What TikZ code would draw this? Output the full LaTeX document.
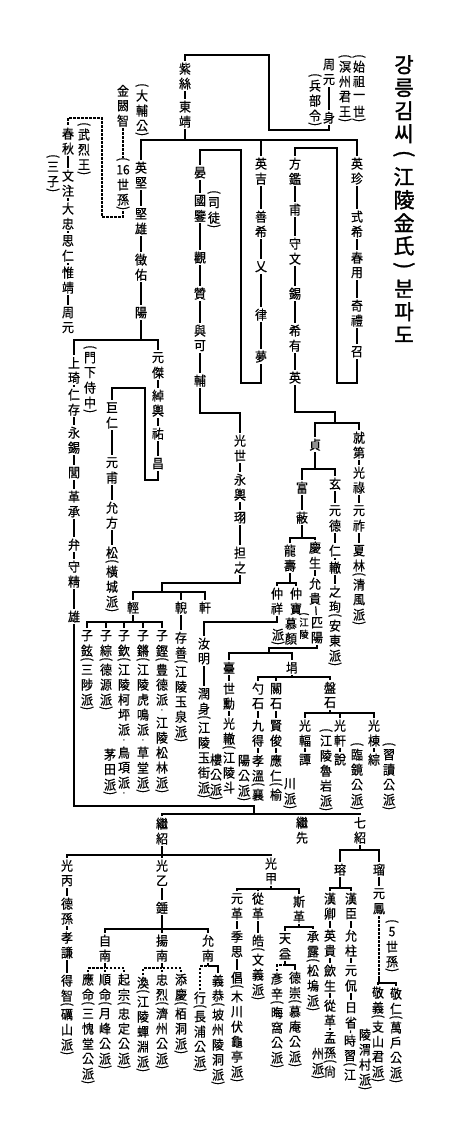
\documentclass[tikz,border=0pt]{standalone}
\usepackage{fontspec}
\usepackage{graphicx}
\newfontfamily\cjk[FakeBold=0.5,FakeStretch=0.92]{Noto Sans CJK KR}
\newfontfamily\cjkt[FakeBold=1.5]{Noto Sans CJK KR}

% vertical text, one box per character
\newlength\vtp \setlength\vtp{15pt}
\newlength\vtq \setlength\vtq{4pt}
\newlength\vtw \setlength\vtw{16pt}
\let\vtend\relax
\def\vtE{\vtend}
\def\vtO{(}\def\vtC{)}\def\vtD{·}
\def\vtbox#1{\vbox to\vtp{\vss\hbox to\vtw{\hss#1\hss}\vss}}
\def\vtpar#1{\vbox to\vtq{\vss\hbox to\vtw{\hss\rotatebox[origin=c]{-90}{#1}\hss}\vss}}
\def\vtdot{\vbox to 8pt{\vss\hbox to\vtw{\hss{\rmfamily\bfseries\fontsize{9}{9}\selectfont ·}\hss}\vss}}
\def\vtc#1{\def\vttmp{#1}%
  \ifx\vttmp\vtO\vtpar{(}\else
  \ifx\vttmp\vtC\vtpar{)}\else
  \ifx\vttmp\vtD\vtdot\else\vtbox{#1}\fi\fi\fi}
\def\vtl#1{\def\vttmp{#1}\ifx\vttmp\vtE\else\vtc{#1}\expandafter\vtl\fi}
\newcommand\vt[1]{\vbox{\offinterlineskip\vtl#1\vtend}}

\begin{document}
\begin{tikzpicture}[x=1pt,y=-1pt,
    nm/.style={inner sep=0pt,anchor=north,font=\cjk\fontsize{13}{15}\selectfont},
    sm/.style={nm,font=\cjk\fontsize{10}{12}\selectfont\setlength\vtp{12pt}\setlength\vtq{3pt}},
    ttl/.style={nm,font=\cjkt\fontsize{21}{23}\selectfont\setlength\vtp{23pt}\setlength\vtq{20pt}\setlength\vtw{24pt}},
    ln/.style={line width=1.2pt},
    dl/.style={line width=1.2pt,dash pattern=on 2.5pt off 1.5pt}
  ]
  \fill[white] (0,0) rectangle (474,1121);
  \useasboundingbox (0,0) rectangle (474,1121);

  \node[ttl] (title) at (404,53) {\vt{강릉김씨(江陵金氏)분파도}};

  % 始祖
  \node[nm] (r1) at (359,55) {\vt{(始祖一世)}};
  \node[nm] (r2) at (345,55) {\vt{(溟州君王)}};
  \node[nm] (zy) at (329,57) {\vt{周元}};
  \node[nm] (shen) at (329,110) {\vt{身}};
  \node[nm] (r3) at (315,74) {\vt{(兵部令)}};
  \node[nm] (zs) at (185,61) {\vt{紫絲}};
  \node[nm] (dj) at (185,99) {\vt{東靖}};

  % 英堅
  \node[nm] (yj) at (141,160) {\vt{英堅}};
  \node[nm] (jx) at (141,206) {\vt{堅雄}};
  \node[nm] (zy2) at (141,252) {\vt{徵佑}};
  \node[nm] (yang) at (141,305) {\vt{陽}};
  \node[nm] (a1) at (142,84) {\vt{(大輔公)}};
  \node[nm] (jyz) at (123,83) {\vt{金閼智}};
  \node[nm] (a2) at (123,158) {\vt{({16}世孫)}};
  \node[nm] (cq) at (68,126) {\vt{春秋}};
  \node[nm] (a3) at (84,123) {\vt{(武烈王)}};
  \node[nm] (a4) at (53,155) {\vt{(三子)}};
  \node[nm] (wz) at (68,168) {\vt{文注}};
  \node[nm] (dzh) at (68,201) {\vt{大忠}};
  \node[nm] (sr) at (68,233) {\vt{思仁}};
  \node[nm] (wj) at (68,265) {\vt{惟靖}};
  \node[nm] (zy3) at (68,305) {\vt{周元}};

  \node[nm] (sq) at (74,355) {\vt{上琦}};
  \node[nm] (a5) at (90,346) {\vt{(門下侍中)}};
  \node[nm] (rc) at (74,387) {\vt{仁存}};
  \node[nm] (yx) at (74,425) {\vt{永錫}};
  \node[nm] (lv) at (74,465) {\vt{閭}};
  \node[nm] (gc) at (74,489) {\vt{革承}};
  \node[nm] (bian) at (74,537) {\vt{弁}};
  \node[nm] (sj) at (74,559) {\vt{守精}};
  \node[nm] (xiong) at (74,609) {\vt{雄}};

  \node[nm] (yjie) at (158,350) {\vt{元傑}};
  \node[nm] (cy) at (158,388) {\vt{綽輿}};
  \node[nm] (you) at (158,426) {\vt{祐}};
  \node[nm] (chang) at (158,456) {\vt{昌}};
  \node[nm] (jr) at (112,400) {\vt{巨仁}};
  \node[nm] (yf) at (112,455) {\vt{元甫}};
  \node[nm] (yfang) at (112,500) {\vt{允方}};
  \node[nm] (song) at (112,545) {\vt{松(橫城派)}};

  % 晏
  \node[nm] (yan) at (200,165) {\vt{晏}};
  \node[nm] (gj) at (200,193) {\vt{國鑒}};
  \node[nm] (a7) at (214,191) {\vt{(司徒)}};
  \node[nm] (guan) at (200,250) {\vt{觀}};
  \node[nm] (zan) at (200,286) {\vt{贊}};
  \node[nm] (yk) at (200,323) {\vt{與可}};
  \node[nm] (fu) at (200,373) {\vt{輔}};
  \node[nm] (gs) at (240,433) {\vt{光世}};
  \node[nm] (yxing) at (240,472) {\vt{永輿}};
  \node[nm] (xu) at (240,510) {\vt{珝}};
  \node[nm] (dz) at (240,545) {\vt{担之}};
  \node[nm] (qing) at (133,600) {\vt{輕}};
  \node[nm] (ni) at (181,600) {\vt{輗}};
  \node[nm] (xuan) at (205,600) {\vt{軒}};
  \node[nm] (zx) at (87,628) {\vt{子鉉(三陟派)}};
  \node[nm] (zz) at (106,628) {\vt{子綜(德源派)}};
  \node[nm] (zq) at (124,628) {\vt{子欽(江陵柯坪派·鳥項派·}};
  \node[nm] (zq2) at (110,747) {\vt{茅田派)}};
  \node[nm] (zqi) at (143,628) {\vt{子鏘(江陵虎鳴派·草堂派)}};
  \node[nm] (zk) at (162,628) {\vt{子鏗(豊德派·江陵松林派)}};
  \node[nm] (cs) at (181,630) {\vt{存善(江陵玉泉派)}};
  \node[nm] (rm) at (204,636) {\vt{汝明}};
  \node[nm] (rs) at (204,686) {\vt{潤身(江陵玉街派)}};

  % 英珍, 方鑑, 英吉
  \node[nm] (yzh) at (357,156) {\vt{英珍}};
  \node[nm] (sx) at (357,209) {\vt{式希}};
  \node[nm] (cy2) at (357,250) {\vt{春用}};
  \node[nm] (ql) at (357,298) {\vt{奇禮}};
  \node[nm] (zhao) at (357,344) {\vt{召}};
  \node[nm] (fjian) at (295,156) {\vt{方鑑}};
  \node[nm] (pu) at (295,202) {\vt{甫}};
  \node[nm] (sw) at (295,236) {\vt{守文}};
  \node[nm] (xi) at (295,286) {\vt{錫}};
  \node[nm] (xy) at (295,323) {\vt{希有}};
  \node[nm] (ying) at (295,370) {\vt{英}};
  \node[nm] (yji) at (261,156) {\vt{英吉}};
  \node[nm] (sxi) at (261,209) {\vt{善希}};
  \node[nm] (yi) at (261,259) {\vt{乂}};
  \node[nm] (lu) at (261,307) {\vt{律}};
  \node[nm] (meng) at (261,349) {\vt{夢}};

  % 貞, 就第
  \node[nm] (zhen) at (315,437) {\vt{貞}};
  \node[nm] (jd) at (359,430) {\vt{就第}};
  \node[nm] (gl) at (359,465) {\vt{光祿}};
  \node[nm] (yz) at (359,503) {\vt{元祚}};
  \node[nm] (xl) at (359,543) {\vt{夏林(清風派)}};
  \node[nm] (fu2) at (302,480) {\vt{富}};
  \node[nm] (bi) at (302,510) {\vt{蔽}};
  \node[nm] (xuan2) at (335,476) {\vt{玄}};
  \node[nm] (yd) at (335,503) {\vt{元德}};
  \node[nm] (ren) at (335,543) {\vt{仁}};
  \node[nm] (zhe) at (335,560) {\vt{轍}};
  \node[nm] (zx2) at (335,584) {\vt{之珣(安東派)}};
  \node[nm] (ls) at (290,543) {\vt{龍壽}};
  \node[nm] (qs) at (315,540) {\vt{慶生}};
  \node[nm] (yg) at (315,576) {\vt{允貴}};
  \node[nm] (py) at (317,615) {\vt{匹陽}};
  \node[nm] (zxg) at (277,586) {\vt{仲祥}};
  \node[nm] (zb) at (296,586) {\vt{仲寶}};
  \node[nm] (a8b) at (291,616) {\vt{慕顏}};
  \node[sm] (a8) at (304,613) {\vt{(江陵}};
  \node[nm] (a9) at (278,627) {\vt{派)}};

  % 臺, 埍
  \node[nm] (tai) at (229,660) {\vt{臺}};
  \node[nm] (keng) at (292,660) {\vt{埍}};
  \node[nm] (sx2) at (229,681) {\vt{世勳}};
  \node[nm] (gz) at (229,716) {\vt{光轍(江陵斗}};
  \node[nm] (a10) at (216,752) {\vt{樓公派)}};
  \node[nm] (sh2) at (258,681) {\vt{勺石}};
  \node[nm] (jd2) at (258,718) {\vt{九得}};
  \node[nm] (xw) at (258,753) {\vt{孝溫(襄}};
  \node[nm] (a11) at (244,753) {\vt{陽公派)}};
  \node[nm] (gs2) at (276,681) {\vt{關石}};
  \node[nm] (xj) at (276,718) {\vt{賢俊}};
  \node[nm] (yr) at (276,753) {\vt{應仁(榆}};
  \node[nm] (a12) at (290,776) {\vt{川派)}};
  \node[nm] (ps) at (330,680) {\vt{盤石}};
  \node[nm] (gx) at (305,718) {\vt{光輻}};
  \node[nm] (tan) at (305,752) {\vt{譚}};
  \node[nm] (gxu) at (340,718) {\vt{光軒}};
  \node[nm] (shuo) at (340,752) {\vt{說}};
  \node[nm] (gd) at (374,718) {\vt{光棟}};
  \node[nm] (zong) at (374,752) {\vt{綜}};
  \node[nm] (a13) at (326,729) {\vt{(江陵魯岩派)}};
  \node[nm] (a14) at (357,743) {\vt{(臨鏡公派)}};
  \node[nm] (a15) at (389,743) {\vt{(習讀公派)}};

  % 繼紹, 繼先, 七紹
  \node[nm] (jishao) at (162,816) {\vt{繼紹}};
  \node[nm] (jixian) at (302,815) {\vt{繼先}};
  \node[nm] (qishao) at (360,815) {\vt{七紹}};
  \node[nm] (gb) at (67,858) {\vt{光丙}};
  \node[nm] (ds) at (67,896) {\vt{德孫}};
  \node[nm] (xq) at (67,930) {\vt{孝謙}};
  \node[nm] (dzhi) at (67,973) {\vt{得智(礪山派)}};
  \node[nm] (gy) at (162,858) {\vt{光乙}};
  \node[nm] (chui) at (162,900) {\vt{錘}};
  \node[nm] (zn) at (105,933) {\vt{自南}};
  \node[nm] (yn) at (162,933) {\vt{揚南}};
  \node[nm] (yun) at (208,933) {\vt{允南}};
  \node[nm] (ym) at (88,972) {\vt{應命(三愧堂公派)}};
  \node[nm] (sm) at (105,972) {\vt{順命(月峰公派)}};
  \node[nm] (qz) at (124,972) {\vt{起宗(忠定公派)}};
  \node[nm] (huan) at (143,975) {\vt{渙(江陵蟬淵派)}};
  \node[nm] (zl) at (162,972) {\vt{忠烈(濟州公派)}};
  \node[nm] (tq) at (181,972) {\vt{添慶(栢洞派)}};
  \node[nm] (xing) at (200,990) {\vt{行(長浦公派)}};
  \node[nm] (yg2) at (218,973) {\vt{義恭(坡州陵洞派)}};
  \node[nm] (gjia) at (271,856) {\vt{光甲}};
  \node[nm] (yg3) at (237,891) {\vt{元革}};
  \node[nm] (js) at (237,929) {\vt{季思}};
  \node[nm] (chang2) at (237,970) {\vt{倡(木川伏龜亭派)}};
  \node[nm] (cg) at (258,891) {\vt{從革}};
  \node[nm] (hao) at (258,933) {\vt{皓(文義派)}};
  \node[nm] (sg) at (299,894) {\vt{斯革}};
  \node[nm] (ty) at (285,931) {\vt{天益}};
  \node[nm] (cl) at (313,929) {\vt{承露(松塢派)}};
  \node[nm] (yx2) at (277,971) {\vt{彥辛(晦窩公派)}};
  \node[nm] (dc) at (295,970) {\vt{德崇(慕庵公派)}};
  \node[nm] (rong) at (340,862) {\vt{瑢}};
  \node[nm] (liu) at (379,862) {\vt{瑠}};
  \node[nm] (hq) at (330,891) {\vt{漢卿}};
  \node[nm] (yg4) at (330,928) {\vt{英貴}};
  \node[nm] (lsh) at (330,963) {\vt{歛生}};
  \node[nm] (cg2) at (330,998) {\vt{從革}};
  \node[nm] (ms) at (330,1030) {\vt{孟孫(尙}};
  \node[nm] (a16) at (318,1046) {\vt{州派)}};
  \node[nm] (hc) at (351,891) {\vt{漢臣}};
  \node[nm] (yz2) at (351,928) {\vt{允柱}};
  \node[nm] (yk2) at (351,963) {\vt{元侃}};
  \node[nm] (rs2) at (351,1000) {\vt{日省}};
  \node[nm] (sx3) at (350,1033) {\vt{時習(江}};
  \node[nm] (a17) at (365,1027) {\vt{陵渭村派)}};
  \node[nm] (yf2) at (379,886) {\vt{元鳳}};
  \node[nm] (a18) at (392,920) {\vt{(5世孫)}};
  \node[nm] (jy) at (378,985) {\vt{敬義(支山君派)}};
  \node[nm] (jr2) at (396,986) {\vt{敬仁(萬戶公派)}};

  % links inside a column
  \foreach \a/\b in {zy/shen,zs/dj,yj/jx,jx/zy2,zy2/yang,
      cq/wz,wz/dzh,dzh/sr,sr/wj,wj/zy3,
      sq/rc,rc/yx,yx/lv,lv/gc,gc/bian,bian/sj,sj/xiong,
      yjie/cy,cy/you,you/chang,jr/yf,yf/yfang,yfang/song,
      yan/gj,gj/guan,guan/zan,zan/yk,yk/fu,
      gs/yxing,yxing/xu,xu/dz,ni/cs,rm/rs,
      yzh/sx,sx/cy2,cy2/ql,ql/zhao,
      fjian/pu,pu/sw,sw/xi,xi/xy,xy/ying,
      yji/sxi,sxi/yi,yi/lu,lu/meng,
      jd/gl,gl/yz,yz/xl,fu2/bi,xuan2/yd,yd/ren,ren/zhe,zhe/zx2,
      qs/yg,yg/py,tai/sx2,sx2/gz,
      sh2/jd2,jd2/xw,gs2/xj,xj/yr,gx/tan,gxu/shuo,gd/zong,
      gb/ds,ds/xq,xq/dzhi,gy/chui,yg3/js,js/chang2,cg/hao,
      hq/yg4,yg4/lsh,lsh/cg2,cg2/ms,
      hc/yz2,yz2/yk2,yk2/rs2,rs2/sx3,liu/yf2}
    \draw[ln] (\a) -- (\b);

  % brackets and forks
  \draw[ln] (shen.south) |- (269,130) -- (269,55) -| (zs.north);
  \draw[ln] (dj.south) -- (185,140);
  \foreach \ch in {yj,yji,yzh} \draw[ln] (\ch.north) |- (185,140);
  \draw[dl] (jyz) -- (a2);
  \draw[dl] (a2.south) |- (102,217) -- (102,118) -| (cq.north);
  \draw[ln] (yang.south) -- (141,340);
  \foreach \ch in {sq,yjie} \draw[ln] (\ch.north) |- (141,340);
  \draw[ln] (chang.south) |- (145,480) -- (145,388) -| (jr.north);
  \draw[ln] (zhao.south) |- (337,383) -- (337,148) -| (fjian.north);
  \draw[ln] (meng.south) |- (241,383) -- (241,150) -| (yan.north);
  \draw[ln] (fu.south) |- (240,413) -- (gs.north);
  \draw[ln] (dz.south) |- (162,583) -- (162,592);
  \foreach \ch in {qing,ni,xuan} \draw[ln] (\ch.north) |- (162,592);
  \draw[ln] (qing.south) -- (133,622);
  \foreach \ch in {zx,zz,zq,zqi,zk} \draw[ln] (\ch.north) |- (133,622);
  \draw[ln] (zxg.south) |- (204,622) -- (rm.north);
  \draw[ln] (ying.south) |- (335,412) -- (335,423);
  \foreach \ch in {zhen,jd} \draw[ln] (\ch.north) |- (335,423);
  \draw[ln] (zhen.south) -- (315,469);
  \foreach \ch in {fu2,xuan2} \draw[ln] (\ch.north) |- (315,469);
  \draw[ln] (bi.south) -- (302,538);
  \foreach \ch in {ls,qs} \draw[ln] (\ch.north) |- (302,538);
  \draw[ln] (ls.south) -- (290,583);
  \foreach \ch in {zxg,zb} \draw[ln] (\ch.north) |- (290,583);
  \draw[ln] (py.south) |- (269,648) -- (269,653);
  \foreach \ch in {tai,keng} \draw[ln] (\ch.north) |- (269,653);
  \draw[ln] (keng.south) -- (292,677);
  \foreach \ch in {sh2,gs2,ps} \draw[ln] (\ch.north) |- (292,677);
  \draw[ln] (ps.south) -- (330,713);
  \foreach \ch in {gx,gxu,gd} \draw[ln] (\ch.north) |- (330,713);

  \draw[ln] (xiong.south) |- (254,806) -- (254,814);
  \foreach \ch in {jishao,jixian,qishao} \draw[ln] (\ch.north) |- (254,814);
  \draw[ln] (jishao.south) -- (162,855);
  \foreach \ch in {gb,gy,gjia} \draw[ln] (\ch.north) |- (162,855);
  \draw[ln] (chui.south) -- (162,929);
  \foreach \ch in {zn,yn,yun} \draw[ln] (\ch.north) |- (162,929);
  \draw[ln] (zn.south) -- (105,968);
  \foreach \ch in {ym,sm,qz} \draw[dl] (\ch.north) |- (105,968);
  \draw[ln] (yn.south) -- (162,968);
  \foreach \ch in {huan,zl,tq} \draw[dl] (\ch.north) |- (162,968);
  \draw[ln] (yun.south) -- (208,966);
  \draw[ln] (yg2.north) |- (208,966);
  \draw[dl] (xing.north) |- (208,966);
  \draw[ln] (gjia.south) -- (271,889);
  \foreach \ch in {yg3,cg,sg} \draw[ln] (\ch.north) |- (271,889);
  \draw[ln] (sg.south) -- (299,927);
  \foreach \ch in {ty,cl} \draw[ln] (\ch.north) |- (299,927);
  \draw[ln] (ty.south) -- (285,965);
  \draw[dl] (yx2.north) |- (285,965);
  \draw[ln] (dc.north) |- (285,965);
  \draw[ln] (qishao.south) -- (360,850);
  \foreach \ch in {rong,liu} \draw[ln] (\ch.north) |- (360,850);
  \draw[ln] (rong.south) -- (340,888);
  \foreach \ch in {hq,hc} \draw[ln] (\ch.north) |- (340,888);
  \draw[dl] (yf2.south) -- (379,976);
  \draw[ln] (379,976) -- (379,983);
  \foreach \ch in {jy,jr2} \draw[ln] (\ch.north) |- (379,983);
\end{tikzpicture}
\end{document}
